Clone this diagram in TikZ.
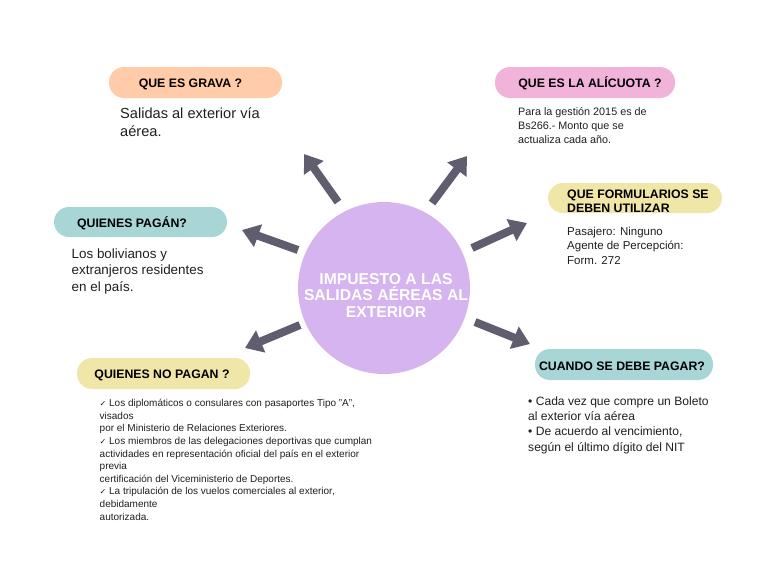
\documentclass[tikz,border=0pt]{standalone}
\usepackage{fontspec}
\setmainfont{Liberation Sans}
\newfontfamily\symfont{DejaVu Sans}
\usetikzlibrary{arrows.meta}
\definecolor{peach}{HTML}{FFCBA8}
\definecolor{teal}{HTML}{A8D5D6}
\definecolor{sand}{HTML}{F0E6A8}
\definecolor{pinkc}{HTML}{F2B3DA}
\definecolor{lav}{HTML}{D5B4EF}
\definecolor{arrowgray}{HTML}{5F5D6E}
\definecolor{ink}{HTML}{1F1F1F}
\newcommand\stackL[1]{\vtop{\halign{##\hfil\cr#1\crcr}}}
\newcommand\stackC[1]{\vtop{\halign{\hfil##\hfil\cr#1\crcr}}}
\newcommand\chk{{\symfont\fontsize{8}{8}\selectfont ✓}}
\begin{document}
\begin{tikzpicture}[x=1pt,y=-1pt,
  pill/.style={fill=#1, rounded corners=15pt, inner sep=0, draw=none},
  head/.style={inner sep=0, text=black, font=\fontsize{12.3}{14.4}\selectfont\bfseries},
  body/.style={inner sep=0, anchor=base west, text=ink},
  arr/.style={line width=8pt, color=arrowgray, -{Triangle[width=23pt,length=17pt]}}]
\useasboundingbox (0,0) rectangle (768,576);

% central circle
\fill[lav] (384,288) circle[radius=86];
\node[inner sep=0, anchor=base, text=white, font=\fontsize{15.7}{16.6}\selectfont\bfseries] (title) at (386,284)
  {\stackC{IMPUESTO A LAS\cr SALIDAS AÉREAS AL\cr EXTERIOR}};

% pills
\path[pill=peach] (109,67) rectangle (282,98);
\node[head, anchor=base] (h1) at (190.5,87.3) {QUE ES GRAVA ?};
\node[body, font=\fontsize{14.6}{17.7}\selectfont] (b1) at (120,118.3)
  {\stackL{Salidas al exterior vía\cr aérea.}};

\path[pill=teal] (54,207) rectangle (227,237);
\node[head, anchor=base] (h2) at (132,227.7) {QUIENES PAGÁN?};
\node[body, font=\fontsize{13.4}{16.8}\selectfont] (b2) at (71.5,258)
  {\stackL{Los bolivianos y\cr extranjeros residentes\cr en el país.}};

\path[pill=sand] (77,358) rectangle (250,389);
\node[head, anchor=base] (h3) at (162,378.3) {QUIENES NO PAGAN ?};
\node[body, font=\fontsize{10}{12.6}\selectfont] (b3) at (99.5,406.7)
  {\stackL{\chk\ Los diplomáticos o consulares con pasaportes Tipo "A",\cr
  visados\cr
  por el Ministerio de Relaciones Exteriores.\cr
  \chk\ Los miembros de las delegaciones deportivas que cumplan\cr
  actividades en representación oficial del país en el exterior\cr
  previa\cr
  certificación del Viceministerio de Deportes.\cr
  \chk\ La tripulación de los vuelos comerciales al exterior,\cr
  debidamente\cr
  autorizada.}};

\path[pill=pinkc] (495,67) rectangle (675,98);
\node[head, anchor=base] (h4) at (590,87.3) {QUE ES LA ALÍCUOTA ?};
\node[body, font=\fontsize{10.8}{14.2}\selectfont] (b4) at (518,115)
  {\stackL{Para la gestión 2015 es de\cr Bs266.- Monto que se\cr actualiza cada año.}};

\path[pill=sand] (548,183) rectangle (722,213);
\node[head, anchor=base west] (h5) at (567,198.3)
  {\stackL{QUE FORMULARIOS SE\cr DEBEN UTILIZAR}};
\node[body, font=\fontsize{11.5}{14.7}\selectfont] (b5) at (567,235)
  {\stackL{Pasajero: Ninguno\cr Agente de Percepción:\cr Form. 272}};

\path[pill=teal] (535,349) rectangle (713,380);
\node[head, anchor=base] (h6) at (622,370.7) {CUANDO SE DEBE PAGAR?};
\node[body, font=\fontsize{12.1}{15.4}\selectfont] (b6) at (528,405)
  {\stackL{• Cada vez que compre un Boleto\cr al exterior vía aérea\cr • De acuerdo al vencimiento,\cr según el último dígito del NIT}};

% arrows
\coordinate (t1) at (338,202); \coordinate (e1) at (304,154);
\coordinate (t2) at (432,203); \coordinate (e2) at (467,156);
\coordinate (t3) at (298,250); \coordinate (e3) at (242,230);
\coordinate (t4) at (472,248); \coordinate (e4) at (527,223);
\coordinate (t5) at (300,325); \coordinate (e5) at (245,348);
\coordinate (t6) at (475,322); \coordinate (e6) at (530,344);
\foreach \i in {1,...,6} \draw[arr] (t\i) -- (e\i);
\end{tikzpicture}
\end{document}
